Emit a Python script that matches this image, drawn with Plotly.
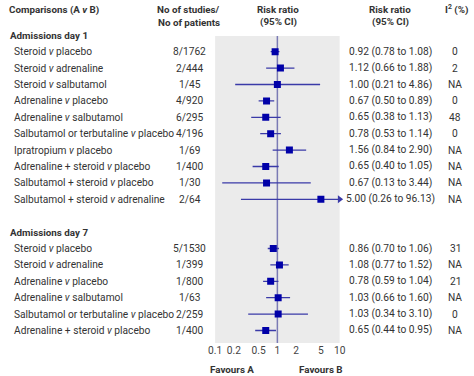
import numpy as np
import plotly.graph_objects as go

W, H = 474, 376

# ---------------- data ----------------
day1_labels = ["Steroid <i>v</i> placebo", "Steroid <i>v</i> adrenaline", "Steroid <i>v</i> salbutamol",
               "Adrenaline <i>v</i> placebo", "Adrenaline <i>v</i> salbutamol",
               "Salbutamol or terbutaline <i>v</i> placebo", "Ipratropium <i>v</i> placebo",
               "Adrenaline + steroid <i>v</i> placebo", "Salbutamol + steroid <i>v</i> placebo",
               "Salbutamol + steroid <i>v</i> adrenaline"]
day1_n = ["8/1762", "2/444", "1/45", "4/920", "6/295", "4/196", "1/69", "1/400", "1/30", "2/64"]
day1_rr = [0.92, 1.12, 1.00, 0.67, 0.65, 0.78, 1.56, 0.65, 0.67, 5.00]
day1_lo = [0.78, 0.66, 0.21, 0.50, 0.38, 0.53, 0.84, 0.40, 0.13, 0.26]
day1_hi = [1.08, 1.88, 4.86, 0.89, 1.13, 1.14, 2.90, 1.05, 3.44, 96.13]
day1_i2 = ["0", "2", "NA", "0", "48", "0", "NA", "NA", "NA", "NA"]

day7_labels = ["Steroid <i>v</i> placebo", "Steroid <i>v</i> adrenaline", "Adrenaline <i>v</i> placebo",
               "Adrenaline <i>v</i> salbutamol", "Salbutamol or terbutaline <i>v</i> placebo",
               "Adrenaline + steroid <i>v</i> placebo"]
day7_n = ["5/1530", "1/399", "1/800", "1/63", "2/259", "1/400"]
day7_rr = [0.86, 1.08, 0.78, 1.03, 1.03, 0.65]
day7_lo = [0.70, 0.77, 0.59, 0.66, 0.34, 0.44]
day7_hi = [1.06, 1.52, 1.04, 1.60, 3.10, 0.95]
day7_i2 = ["31", "NA", "21", "NA", "0", "NA"]

tick_vals = [0.1, 0.2, 0.5, 1, 2, 5, 10]
tick_text = ["0.1", "0.2", "0.5", "1", "2", "5", "10"]
x_min, x_max = 0.1, 10

# ---------------- layout geometry ----------------
ROW0, ROWH = 51.7, 16.4          # pixel y of first row, row height
PLOT_L, PLOT_R = 214, 342        # plot x pixels
PLOT_T, PLOT_B = 36, 343         # plot y pixels

def py(i):
    return ROW0 + ROWH * i

def fy(p):
    return 1 - p / H

def fx(p):
    return p / W

day1_rows = list(range(0, 10))
day7_rows = list(range(12, 18))

rows = day1_rows + day7_rows
rr = day1_rr + day7_rr
lo = day1_lo + day7_lo
hi = day1_hi + day7_hi
hi_clip = [min(h, x_max) for h in hi]

FONT = "Roboto"
TXT = "#333333"
FS = 10.2
FSB = 9.8
CI_COL = "#3a3aa8"

fig = go.Figure()

fig.add_trace(go.Scatter(
    x=rr, y=rows, mode="markers",
    marker=dict(symbol="square", size=7, color="#0000a8"),
    error_x=dict(type="data", symmetric=False,
                 array=[h - r for h, r in zip(hi_clip, rr)],
                 arrayminus=[r - l for r, l in zip(rr, lo)],
                 color=CI_COL, thickness=1.3, width=0),
    hoverinfo="skip", showlegend=False, cliponaxis=True,
))

# arrowheads for CIs running off the axis
arrow_y = [r for r, h in zip(rows, hi) if h > x_max]
fig.add_trace(go.Scatter(
    x=[x_max] * len(arrow_y), y=arrow_y, mode="markers",
    marker=dict(symbol="triangle-right", size=7, color=CI_COL),
    hoverinfo="skip", showlegend=False, cliponaxis=False,
))

# reference line at RR = 1
fig.add_shape(type="line", xref="x", yref="y domain", x0=1, x1=1, y0=0, y1=1,
              line=dict(color="#7a7ab4", width=1.5), layer="below")

annotations = []

def txt(x, y, s, anchor="left", bold=False, size=None, color=TXT):
    if size is None:
        size = FSB if bold else FS
    if bold:
        s = "<b>" + s + "</b>"
    annotations.append(dict(x=fx(x), y=fy(y), xref="paper", yref="paper", text=s,
                            showarrow=False, xanchor=anchor, yanchor="middle",
                            font=dict(family=FONT, size=size, color=color)))

# headers
txt(0, 10, "Comparisons (A <i>v</i> B)", bold=True)
txt(187, 10, "No of studies/", anchor="center", bold=True)
txt(187, 22, "No of patients", anchor="center", bold=True)
txt(279, 10, "Risk ratio", anchor="center", bold=True)
txt(279, 22, "(95% CI)", anchor="center", bold=True)
txt(394, 10, "Risk ratio", anchor="center", bold=True)
txt(394, 22, "(95% CI)", anchor="center", bold=True)
txt(462, 10, "I<sup>2</sup> (%)", anchor="center", bold=True)

txt(1, py(-1), "Admissions day 1", bold=True)
txt(1, py(11), "Admissions day 7", bold=True)

labels = day1_labels + day7_labels
ns = day1_n + day7_n
i2s = day1_i2 + day7_i2
for i, lab, n, r, l, h, i2 in zip(rows, labels, ns, rr, lo, hi, i2s):
    y = py(i)
    txt(5, y, lab)
    txt(188, y, n, anchor="center")
    txt(394, y, f"{r:.2f} ({l:.2f} to {h:.2f})", anchor="center")
    txt(461, y, i2, anchor="center")

txt(231, 369, "Favours A", anchor="center", bold=True)
txt(323, 369, "Favours B", anchor="center", bold=True)

fig.update_layout(
    width=W, height=H,
    margin=dict(l=0, r=0, t=0, b=0),
    paper_bgcolor="white", plot_bgcolor="#ebebeb",
    annotations=annotations,
    xaxis=dict(type="log", range=[np.log10(x_min), np.log10(x_max)],
               domain=[fx(PLOT_L), fx(PLOT_R)],
               tickvals=tick_vals, ticktext=tick_text, ticks="",
               showgrid=False, zeroline=False, showline=False,
               tickfont=dict(family=FONT, size=FS, color="#444444")),
    yaxis=dict(range=[(PLOT_B - ROW0) / ROWH, (PLOT_T - ROW0) / ROWH],
               domain=[fy(PLOT_B), fy(PLOT_T)],
               visible=False, showgrid=False, zeroline=False),
)

fig.write_html("out.html", config={"displayModeBar": False},
               post_script="document.body.style.margin='0';document.body.style.padding='0';")
